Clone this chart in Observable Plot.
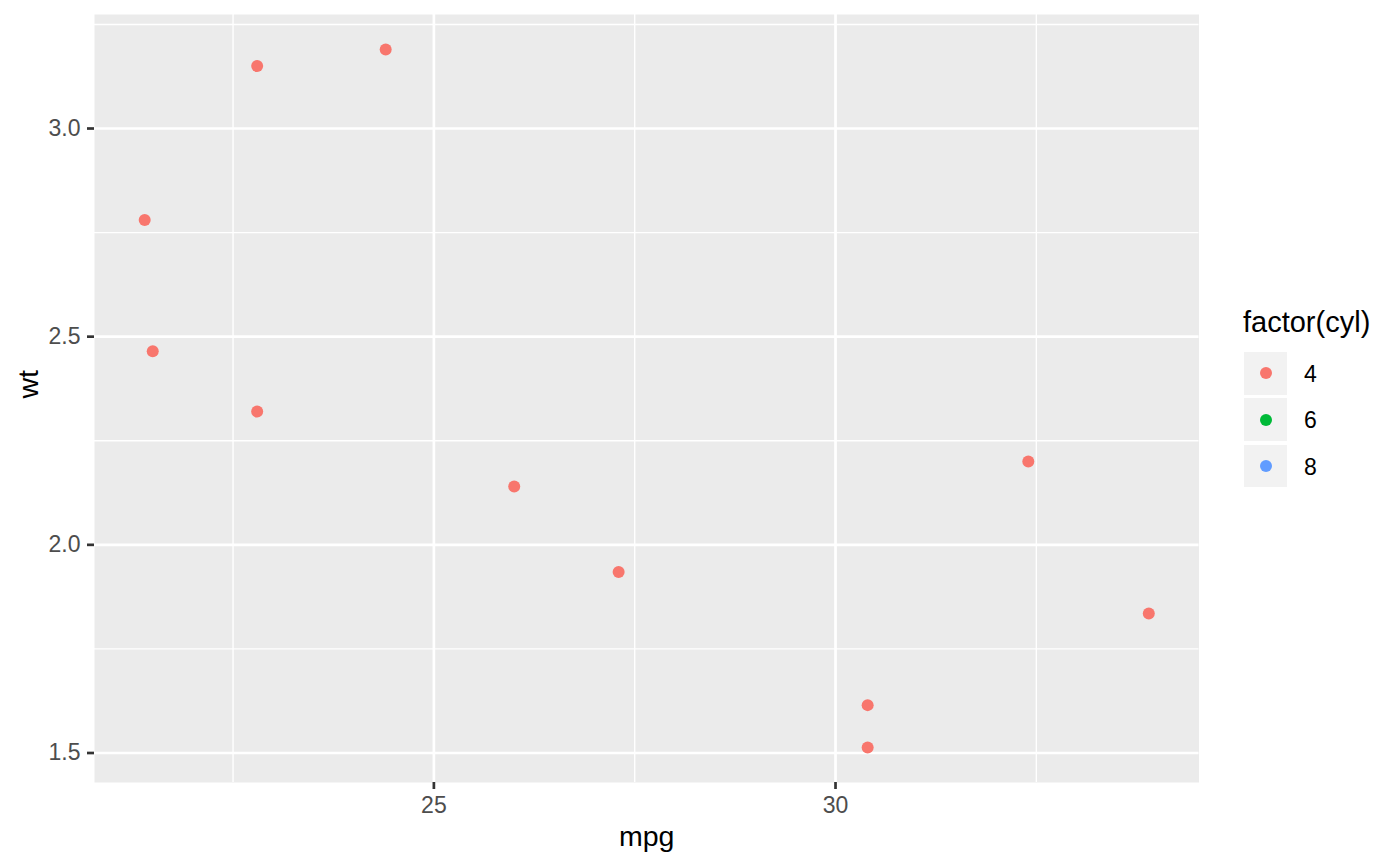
<!DOCTYPE html>
<html>
<head>
<meta charset="utf-8">
<script src="https://cdn.jsdelivr.net/npm/d3@7"></script>
<script src="https://cdn.jsdelivr.net/npm/@observablehq/plot@0.6"></script>
<style>
  body { margin: 0; background: white; font-family: "Liberation Sans", Arial, sans-serif; }
  #wrap { position: relative; width: 1400px; height: 866px; }
  #legend { position: absolute; left: 0; top: 0; }
  .lg-title { position: absolute; left: 1243px; top: 307.5px; font-size: 29px; line-height: 29px; color: #000; white-space: nowrap; }
  .lg-key { position: absolute; left: 1244px; width: 43px; height: 42.7px; background: #F2F2F2; }
  .lg-dot { position: absolute; left: 15.5px; width: 12px; height: 12px; border-radius: 50%; top: 15.35px; }
  .lg-label { position: absolute; left: 1304px; font-size: 23px; line-height: 23px; color: #000; }
</style>
</head>
<body>
<div id="wrap"><div id="legend"></div></div>
<script>
// mtcars, 4-cylinder cars
const mpg = [22.8, 24.4, 22.8, 32.4, 30.4, 33.9, 21.5, 27.3, 26.0, 30.4, 21.4];
const wt  = [2.320, 3.190, 3.150, 2.200, 1.615, 1.835, 2.465, 1.935, 2.140, 1.513, 2.780];
const cyl = ["4", "4", "4", "4", "4", "4", "4", "4", "4", "4", "4"];

const cylLevels = ["4", "6", "8"];
const cylColors = ["#F8766D", "#00BA38", "#619CFF"];

const xMajor = [25, 30];
const xMinor = [22.5, 27.5, 32.5];
const yMajor = [1.5, 2.0, 2.5, 3.0];
const yMinor = [1.75, 2.25, 2.75, 3.25];

const xTitle = "mpg";
const yTitle = "wt";
const legendTitle = "factor(cyl)";

const data = mpg.map((m, i) => ({mpg: m, wt: wt[i], cyl: cyl[i]}));

const plot = Plot.plot({
  width: 1400,
  height: 866,
  marginLeft: 94,
  marginRight: 201.5,
  marginTop: 14,
  marginBottom: 84,
  style: {fontFamily: "'Liberation Sans', Arial, sans-serif", background: "white", overflow: "visible"},
  x: {domain: [20.775, 34.525]},
  y: {domain: [1.42915, 3.27385]},
  color: {domain: cylLevels, range: cylColors},
  marks: [
    Plot.frame({fill: "#EBEBEB", stroke: "none"}),
    Plot.gridX(xMinor, {stroke: "white", strokeOpacity: 1, strokeWidth: 1.4}),
    Plot.gridY(yMinor, {stroke: "white", strokeOpacity: 1, strokeWidth: 1.4}),
    Plot.gridX(xMajor, {stroke: "white", strokeOpacity: 1, strokeWidth: 2.7}),
    Plot.gridY(yMajor, {stroke: "white", strokeOpacity: 1, strokeWidth: 2.7}),
    Plot.axisX(xMajor, {tickSize: 7, tickPadding: 7, fontSize: 23, fill: "#4D4D4D", stroke: "#333333", strokeWidth: 2.7, tickFormat: d3.format("d"), label: null}),
    Plot.axisY(yMajor, {tickSize: 7, tickPadding: 7, fontSize: 23, fill: "#4D4D4D", stroke: "#333333", strokeWidth: 2.7, tickFormat: d3.format(".1f"), label: null}),
    Plot.dot(data, {x: "mpg", y: "wt", fill: "cyl", r: 6, stroke: null}),
    Plot.text([xTitle], {text: d => d, frameAnchor: "bottom", dy: 54, fontSize: 28.5, fill: "black", lineAnchor: "middle"}),
    Plot.text([yTitle], {text: d => d, frameAnchor: "left", dx: -66, rotate: -90, fontSize: 28.5, fill: "black", lineAnchor: "middle"})
  ]
});
document.getElementById("wrap").prepend(plot);

// legend
const lg = document.getElementById("legend");
const t = document.createElement("div");
t.className = "lg-title";
t.textContent = legendTitle;
lg.appendChild(t);
cylLevels.forEach((lev, i) => {
  const top = 352 + i * 46.3;
  const key = document.createElement("div");
  key.className = "lg-key";
  key.style.top = top + "px";
  const dot = document.createElement("div");
  dot.className = "lg-dot";
  dot.style.background = cylColors[i];
  key.appendChild(dot);
  lg.appendChild(key);
  const lab = document.createElement("div");
  lab.className = "lg-label";
  lab.style.top = (top + 21.35 - 11.5 + 1.3) + "px";
  lab.textContent = lev;
  lg.appendChild(lab);
});
</script>
</body>
</html>
